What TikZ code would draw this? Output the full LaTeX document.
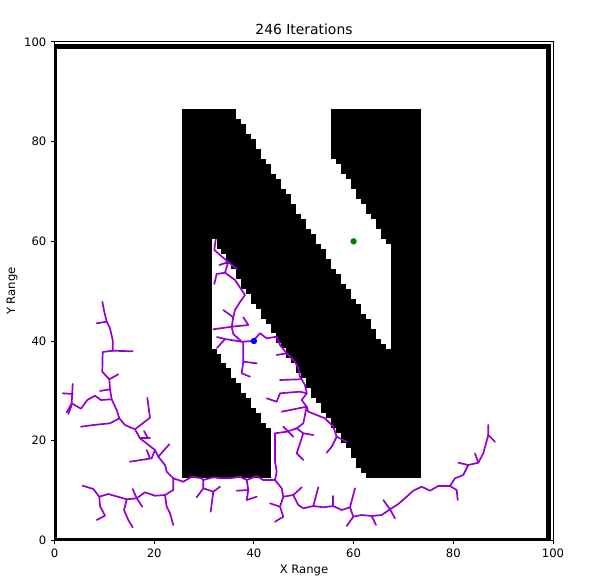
\documentclass[tikz,border=0pt]{standalone}
\usepackage{fontspec}
\setmainfont{DejaVu Sans}
\definecolor{treec}{RGB}{148,0,211}
\definecolor{mgreen}{RGB}{0,128,0}
\definecolor{mblue}{RGB}{0,0,255}
\begin{document}
\begin{tikzpicture}[x=1pt,y=-1pt,
  tree/.style={draw=treec, line width=1.7pt, line join=round, line cap=round},
  spine/.style={line width=0.93pt},
  ticklab/.style={font=\fontsize{11.6}{13}\selectfont, inner sep=0pt},
  axlab/.style={font=\fontsize{11.6}{13}\selectfont, inner sep=0pt},
  ttl/.style={font=\fontsize{13.9}{16}\selectfont, inner sep=0pt}]
\useasboundingbox (0,0) rectangle (600,587);
\fill[white] (0,0) rectangle (600,587);
% ---------------- map (data coordinates) ----------------
\begin{scope}[shift={(54.5,540.4)}]
\begin{scope}[x=4.985pt,y=4.985pt]
  \clip (0,0) rectangle (100,100);
  \fill[black] (-0.5,-0.5) rectangle (99.5,0.5);
  \fill[black] (-0.5,98.5) rectangle (99.5,99.5);
  \fill[black] (-0.5,-0.5) rectangle (0.5,99.5);
  \fill[black] (98.5,-0.5) rectangle (99.5,99.5);
  \fill[black] (25.5,12.5) rectangle (73.5,86.5);
  % upper channel
  \foreach \r in {39,...,86}{
    \pgfmathsetmacro\xl{36.5+floor((86-\r)*30/47+0.2)}
    \pgfmathsetmacro\xr{55.5+min(12,max(0,ceil((77-\r)*0.62)))}
    \fill[white] (\xl,\r-0.51) rectangle (\xr,\r+0.51);
  }
  % lower channel
  \foreach \r in {13,...,60}{
    \pgfmathsetmacro\xl{31.5+min(12,max(0,round((39.5-\r)/1.5)))}
    \pgfmathsetmacro\xr{32.5+floor((60-\r)*30/47+0.2)}
    \fill[white] (\xl,\r-0.51) rectangle (\xr,\r+0.51);
  }
\end{scope}
\end{scope}
% ---------------- tree (pixel coordinates) ----------------
% lower channel
\draw[tree] (215.7,239.3)--(214.3,250)--(220,255)--(228.3,262)--(236.7,269);
\draw[tree] (219.3,265)--(228.3,262);
\draw[tree] (228.3,262)--(225,272.7)--(216.7,274)--(214.3,284);
\draw[tree] (225,272.7)--(235,280)--(245,295)--(240,302)--(235,310)--(233.3,317.3)--(231.7,326.7)--(233.3,334)--(241.7,341.7)--(253,341);
\draw[tree] (223.3,310)--(233.3,317.3);
\draw[tree] (213.3,329.3)--(231.7,326.7)--(248.3,325);
\draw[tree] (243.3,317.3)--(248.3,325);
\draw[tree] (241.7,341.7)--(225,339)--(217,337);
\draw[tree] (225,339)--(217,348);
\draw[tree] (243.3,342)--(243.3,361.7)--(241.7,373.3)--(250,376.7);
\draw[tree] (243.3,361.7)--(256.7,363.3);
\draw[tree] (253,341)--(260,333.3)--(266.7,338.3)--(276.7,336.7)--(280,345)--(286.7,353.3)--(295,361.7)--(298.3,368.3)--(300,376.7)--(305,385)--(306.7,393.3)--(301.7,400)--(306.7,406.7)--(308.3,411.7)--(325,418.3)--(333.3,426.7)--(336.7,436.7)--(346.7,441.7);
\draw[tree] (276.7,355)--(286.7,353.3);
\draw[tree] (280,380)--(300,379.3);
\draw[tree] (266.7,398.3)--(276.7,401.7)--(280,393.3)--(300,391.7)--(306.7,393.3);
\draw[tree] (281.7,411.7)--(306.7,406.7);
\draw[tree] (336.7,436.7)--(331.7,446.7)--(326.7,452.7);
\draw[tree] (306.7,406.7)--(305,415)--(303.3,423.3)--(296.7,428.3)--(286.7,431.7)--(275,433.3)--(275,461.7)--(276.7,471.7)--(275,480);
\draw[tree] (283.3,426.7)--(293.3,436.7);
\draw[tree] (296.7,428.3)--(303.3,433.3)--(313.3,435);
\draw[tree] (303.3,433.3)--(296.7,453.3)--(303.3,460);
% bottom line under N
\draw[tree] (183.3,481.7)--(191.7,476.7)--(201.7,478.3)--(203.3,480)--(213.3,477.3)--(221.7,478.3)--(230,478.3)--(240,476.7)--(246.7,480)--(256.7,476)--(263.3,480)--(275,480);
\draw[tree] (203.3,480)--(203.3,488.3)--(196.7,497.3);
\draw[tree] (203.3,488.3)--(213.3,491.7)--(210.7,511.7);
\draw[tree] (213.3,491.7)--(220,486.7);
\draw[tree] (246.7,480)--(248.3,490)--(246.7,500)--(256.7,496.7);
\draw[tree] (236.7,490.7)--(248.3,490);
\draw[tree] (275,480)--(281.7,488.3)--(283.3,496.7)--(280,506.7)--(283.3,516.7)--(275,521.7);
\draw[tree] (270,503.3)--(280,506.7);
\draw[tree] (283.3,496.7)--(293.3,495)--(301.7,487.3);
\draw[tree] (293.3,495)--(298.3,505)--(303.3,508.3)--(313.3,506)--(323.3,507.3)--(333.3,506)--(341.7,510)--(350,507.3)--(353.3,516.7)--(361.7,515)--(371.7,516)--(381.7,515)--(390,509.3)--(398.3,504)--(406.7,496.7)--(413.3,490.7)--(421.7,486.7)--(430,490.7)--(438.3,486)--(450,486)--(455,478.3)--(463.3,475)--(468.3,465)--(478.3,462.7)--(483.3,453.3)--(488.3,435)--(488.3,425);
\draw[tree] (313.3,506)--(318.3,487.3);
\draw[tree] (333.3,506)--(333.3,496);
\draw[tree] (350,507.3)--(355,488.3);
\draw[tree] (353.3,516.7)--(346.7,526);
\draw[tree] (371.7,516)--(376,525);
\draw[tree] (383.3,500)--(390,509.3)--(395,518.3);
\draw[tree] (450,486)--(456.7,490)--(457.7,500);
\draw[tree] (468.3,465)--(458.3,462.7);
\draw[tree] (478.3,462.7)--(475,453.3);
\draw[tree] (488.3,435)--(495,441.7);
% left part
\draw[tree] (102.3,301.7)--(104.3,311.7)--(106.7,321.7)--(110,328.3)--(112.7,340)--(112.7,350.7)--(102.7,352)--(102.3,371.7)--(109.3,379.3)--(110,389.3)--(111.7,399.3)--(116.7,410)--(119.3,418.3)--(125,425)--(135,429.3)--(140,438.3)--(155,450)--(158.3,456.7)--(165,465)--(166.7,471.7)--(173.3,478.3)--(183.3,481.7);
\draw[tree] (96.7,323.3)--(106.7,321.7);
\draw[tree] (112.7,350.7)--(132.7,351.3);
\draw[tree] (109.3,379.3)--(118.3,374.3);
\draw[tree] (100,391)--(110,389.3);
\draw[tree] (119.3,418.3)--(110,423.3)--(93.3,425)--(81,426.7);
\draw[tree] (135,429.3)--(150,417.7)--(147.3,397.7);
\draw[tree] (140,438.3)--(150,438.3);
\draw[tree] (144,431)--(148,438.3);
\draw[tree] (155,450)--(151.7,458.3)--(130,461.7);
\draw[tree] (146.7,450)--(150,458.3);
\draw[tree] (158.3,456.7)--(169.3,444.3);
\draw[tree] (62.7,393.3)--(72.7,394);
\draw[tree] (72.7,384)--(71.7,403.3)--(66.7,412.3);
\draw[tree] (71.7,403.3)--(81,408.7)--(87.3,400)--(95,395.7)--(101,400)--(111.7,399.3);
\draw[tree] (68.3,414)--(71.7,405);
\draw[tree] (82.7,485.7)--(93.3,489)--(99.3,496.7)--(108.3,494)--(126.7,499.3)--(136.7,498.3)--(145,492.3)--(155,495.7)--(165,495)--(173.3,490)--(173.3,478.3);
\draw[tree] (99.3,496.7)--(100,506)--(105,515.7)--(96.7,520);
\draw[tree] (126.7,499.3)--(124,510)--(128.3,520)--(132.7,527.3);
\draw[tree] (132.7,489)--(136.7,498.3)--(142.3,506.7);
\draw[tree] (165,495)--(166.7,506.7)--(170,513.3)--(173.3,525);
% ---------------- markers ----------------
\fill[mgreen] (353.6,241.3) circle[radius=3.2pt];
\fill[mblue] (253.9,341) circle[radius=3.2pt];
% ---------------- axes ----------------
\draw[spine] (54.5,41.9) rectangle (553,540.4);
\foreach \v in {0,20,...,100}{
  \pgfmathsetmacro\px{54.5+4.985*\v}
  \pgfmathsetmacro\py{540.4-4.985*\v}
  \draw[spine] (\px,540.4)--(\px,544.4);
  \node[ticklab,anchor=north] (xt\v) at (\px,548.4) {\v};
  \draw[spine] (54.5,\py)--(50.5,\py);
  \node[ticklab,anchor=east] (yt\v) at (46.5,\py) {\v};
}
\node[axlab] (xlab) at (304,570) {X Range};
\node[axlab,rotate=90] (ylab) at (12,291) {Y Range};
\node[ttl] (title) at (304,29.5) {246 Iterations};
\end{tikzpicture}
\end{document}
